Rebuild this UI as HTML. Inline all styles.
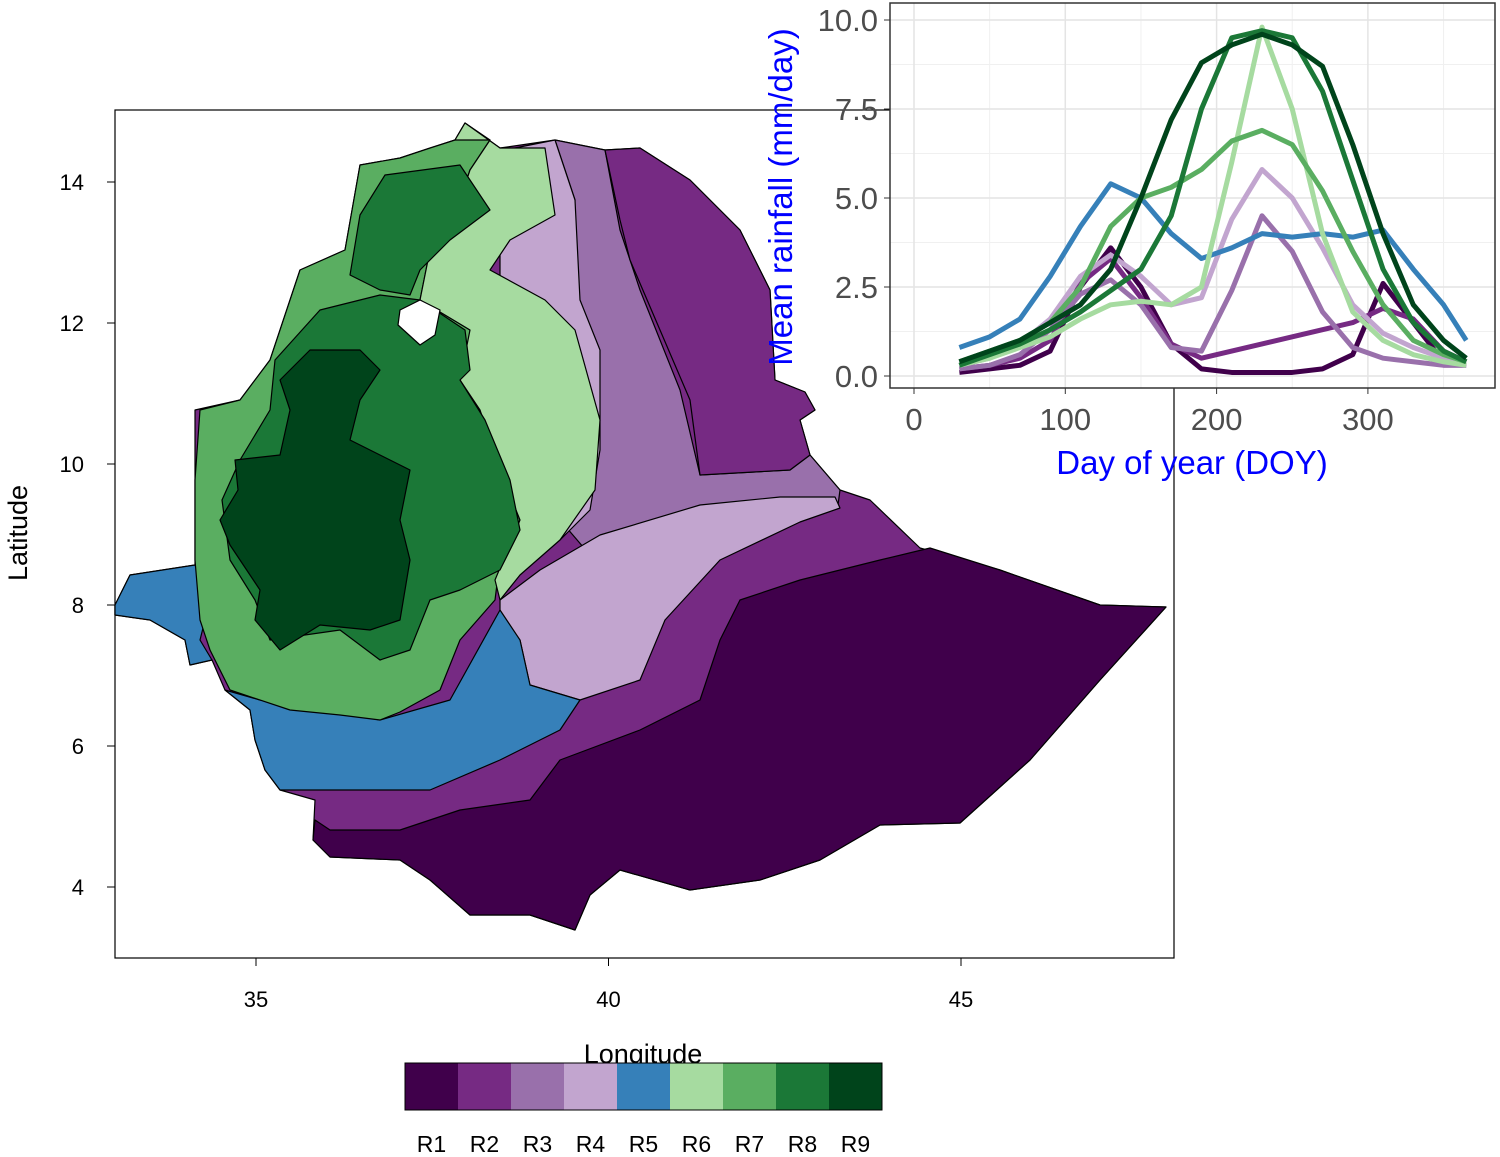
<!DOCTYPE html>
<html><head><meta charset="utf-8"><style>
html,body{margin:0;padding:0;background:#fff;}
svg{display:block;font-family:"Liberation Sans",sans-serif;}
</style></head><body>
<svg id="root" width="1500" height="1157" viewBox="0 0 1500 1157">
<g id="map">
<rect x="115" y="110" width="1059" height="848" fill="#fff" stroke="#000" stroke-width="1.2"/>
<g stroke="#000" stroke-width="1.2" stroke-linejoin="round">
<polygon fill="#762a83" points="115,605 130,575 195,565 195,410 240,400 270,360 300,270 345,250 360,165 400,158 455,140 465,123 500,148 555,140 605,150 640,148 690,180 740,230 770,290 775,380 805,392 815,410 800,420 810,455 840,490 870,500 920,548 1000,570 1100,605 1166,607 1100,680 1030,760 960,823 880,825 820,860 760,880 690,890 620,870 590,895 575,930 530,915 470,915 430,880 400,860 330,857 313,840 315,800 280,790 265,770 255,740 250,710 225,690 212,660 190,665 185,640 150,620 115,615"/>
<polygon fill="#9970ab" points="555,140 605,150 620,230 640,290 680,390 700,475 790,470 810,455 840,490 838,505 760,502 700,512 640,532 590,555 560,520 580,440 590,360 570,300 575,200"/>
<polygon fill="#762a83" points="605,150 640,148 690,180 740,230 770,290 775,380 805,392 815,410 800,420 810,455 790,470 700,475 690,400 660,330 630,260 620,220"/>
<polygon fill="#c2a5cf" points="505,150 555,140 575,200 580,300 600,350 600,450 590,510 560,540 500,520 500,200"/>
<polygon fill="#c2a5cf" points="500,600 540,570 600,535 700,505 780,497 835,497 840,508 800,522 720,560 665,620 640,680 580,700 530,685 520,640 500,632"/>
<polygon fill="#3680b9" points="115,605 130,575 195,565 210,600 200,640 212,660 190,665 185,640 150,620 115,615"/>
<polygon fill="#3680b9" points="225,690 260,700 300,705 380,720 450,700 500,610 520,640 530,685 580,700 560,730 500,760 430,790 320,790 280,790 265,770 255,740 250,710"/>
<polygon fill="#5aae61" points="200,410 240,400 270,360 290,300 300,270 345,250 360,165 400,158 430,148 455,140 465,123 490,140 470,170 460,200 430,250 420,300 470,330 470,360 460,380 480,410 500,470 520,520 500,560 495,600 460,640 440,690 400,712 380,720 340,715 290,710 230,690 210,650 200,620 195,560 195,480"/>
<polygon fill="#a6dba0" points="455,140 465,123 500,148 545,148 555,215 510,240 490,270 545,300 575,330 600,420 595,490 560,540 520,575 500,600 495,580 520,520 500,470 480,410 460,380 470,330 420,300 430,250 460,200 470,170 490,140"/>
<polygon fill="#1b7837" points="350,275 360,215 385,175 460,165 490,210 450,240 420,270 410,295 380,290"/>
<polygon fill="#1b7837" points="275,360 320,310 380,295 420,300 465,330 470,370 460,380 485,420 510,480 520,530 500,570 460,590 430,600 410,650 380,660 340,630 270,640 255,600 230,560 222,500 240,460 270,410"/>
<polygon fill="#00441b" points="235,460 280,455 290,410 280,380 310,350 360,350 380,370 360,400 350,440 410,470 400,520 410,560 400,620 370,630 320,625 280,650 255,620 260,590 230,545 220,520 238,490"/>
<polygon fill="#40004b" points="315,820 330,830 400,830 460,810 530,800 560,760 640,730 700,700 720,640 740,600 800,580 880,560 930,548 1000,570 1100,605 1166,607 1100,680 1030,760 960,823 880,825 820,860 760,880 690,890 620,870 590,895 575,930 530,915 470,915 430,880 400,860 330,857 313,840"/>
<polygon fill="#fff" points="400,310 420,300 440,310 435,335 420,345 398,325"/>
</g>
<g id="mapAxes" font-size="22" fill="#000"></g>
<text x="643" y="1063" font-size="27" text-anchor="middle">Longitude</text>
<text transform="translate(27,533) rotate(-90)" font-size="27" text-anchor="middle">Latitude</text>
</g>
<g id="legend"></g>
<g id="inset"></g>
</svg>
<script>
const NS='http://www.w3.org/2000/svg';
function mk(tag,attrs,parent){const e=document.createElementNS(NS,tag);for(const k in attrs)e.setAttribute(k,attrs[k]);parent.appendChild(e);return e;}
// map axes
const lonTicks=[35,40,45];
const latTicks=[4,6,8,10,12,14];
const lonX=v=>256+(v-35)*70.5, latY=v=>182+(14-v)*70.5;
const ma=document.getElementById('mapAxes');
lonTicks.forEach(v=>{const x=lonX(v);
 const l=mk('line',{x1:x,x2:x,y1:958,y2:966,stroke:'#000'},ma);
 
 
 const t=mk('text',{x:x,y:1007,'text-anchor':'middle'},ma);t.textContent=v;
 
 });
latTicks.forEach(v=>{const y=latY(v);
 const l=mk('line',{x1:107,x2:115,y1:y,y2:y,stroke:'#000'},ma);
 
 
 const t=mk('text',{x:84,y:y+8,'text-anchor':'end'},ma);t.textContent=v;
 
 });
// legend
const legLabels=['R1','R2','R3','R4','R5','R6','R7','R8','R9'];
const legColors=['#40004b','#762a83','#9970ab','#c2a5cf','#3680b9','#a6dba0','#5aae61','#1b7837','#00441b'];
const lg=document.getElementById('legend');
legLabels.forEach((n,i)=>{const x=405+i*53;
 const r=mk('rect',{x:x,y:1063,width:53,height:47,fill:legColors[i]},lg);
 
 
 const t=mk('text',{x:x+26.5,y:1152,'text-anchor':'middle','font-size':23},lg);t.textContent=n;
 
 });
mk('rect',{x:405,y:1063,width:477,height:47,fill:'none',stroke:'#000','stroke-width':1},lg);
// inset chart data
const doy=[30,50,70,90,110,130,150,170,190,210,230,250,270,290,310,330,350,365];
const r1=[0.1,0.2,0.3,0.7,2.5,3.6,2.5,0.9,0.2,0.1,0.1,0.1,0.2,0.6,2.6,1.5,0.4,0.3];
const r2=[0.2,0.3,0.5,1.0,2.6,3.3,2.2,0.9,0.5,0.7,0.9,1.1,1.3,1.5,1.9,1.6,0.7,0.4];
const r3=[0.2,0.3,0.6,1.3,2.3,2.7,2.0,0.8,0.7,2.4,4.5,3.5,1.8,0.8,0.5,0.4,0.3,0.3];
const r4=[0.3,0.5,0.9,1.6,2.8,3.4,2.8,2.0,2.2,4.4,5.8,5.0,3.6,2.0,1.2,0.8,0.5,0.4];
const r5=[0.8,1.1,1.6,2.8,4.2,5.4,5.0,4.0,3.3,3.6,4.0,3.9,4.0,3.9,4.1,3.0,2.0,1.0];
const r6=[0.3,0.5,0.8,1.1,1.6,2.0,2.1,2.0,2.5,6.0,9.8,7.5,4.0,1.8,1.0,0.6,0.4,0.3];
const r7=[0.4,0.7,1.0,1.5,2.5,4.2,5.0,5.3,5.8,6.6,6.9,6.5,5.2,3.5,2.0,1.0,0.6,0.4];
const r8=[0.3,0.6,0.9,1.3,1.8,2.4,3.0,4.5,7.5,9.5,9.7,9.5,8.0,5.5,3.0,1.5,0.7,0.4];
const r9=[0.4,0.7,1.0,1.5,2.0,3.0,5.0,7.2,8.8,9.3,9.6,9.3,8.7,6.5,4.0,2.0,1.0,0.5];
const yTicks=[0,2.5,5,7.5,10];
const yTickLabels=['0.0','2.5','5.0','7.5','10.0'];
const xTicks=[0,100,200,300];
const sx=d=>914+d*1.513, sy=v=>376-v*35.6;
const ins=document.getElementById('inset');
const bg=mk('rect',{x:890,y:3,width:605,height:385,fill:'#fff'},ins);


[-50,50,150,250,350].forEach(d=>{if(sx(d)>890&&sx(d)<1495)mk('line',{x1:sx(d),x2:sx(d),y1:3,y2:388,stroke:'#f0f0f0','stroke-width':1},ins);});
[1.25,3.75,6.25,8.75].forEach(v=>mk('line',{x1:890,x2:1495,y1:sy(v),y2:sy(v),stroke:'#f0f0f0'},ins));
xTicks.forEach(d=>mk('line',{x1:sx(d),x2:sx(d),y1:3,y2:388,stroke:'#e4e4e4','stroke-width':1.5},ins));
yTicks.forEach(v=>mk('line',{x1:890,x2:1495,y1:sy(v),y2:sy(v),stroke:'#e4e4e4','stroke-width':1.5},ins));
const series=[r1,r2,r3,r4,r5,r6,r7,r8,r9];
series.forEach((s,i)=>{const p=mk('polyline',{points:s.map((v,j)=>sx(doy[j])+','+sy(v)).join(' '),fill:'none',stroke:legColors[i],'stroke-width':5,'stroke-linejoin':'round'},ins);
 
 });
mk('rect',{x:890,y:3,width:605,height:385,fill:'none',stroke:'#333','stroke-width':1.5},ins);
yTicks.forEach((v,i)=>{mk('line',{x1:884,x2:890,y1:sy(v),y2:sy(v),stroke:'#333'},ins);
 const t=mk('text',{x:878,y:sy(v)+11,'text-anchor':'end','font-size':31,fill:'#4d4d4d'},ins);t.textContent=yTickLabels[i];
 
 });
xTicks.forEach(d=>{mk('line',{x1:sx(d),x2:sx(d),y1:388,y2:394,stroke:'#333'},ins);
 const t=mk('text',{x:sx(d),y:430,'text-anchor':'middle','font-size':31,fill:'#4d4d4d'},ins);t.textContent=d;
 
 });
const xt=mk('text',{x:1192,y:474,'text-anchor':'middle','font-size':33,fill:'#0000ff'},ins);xt.textContent='Day of year (DOY)';


const yt=mk('text',{transform:'translate(792,197) rotate(-90)','text-anchor':'middle','font-size':33,fill:'#0000ff'},ins);yt.textContent='Mean rainfall (mm/day)';


</script>
</body></html>
